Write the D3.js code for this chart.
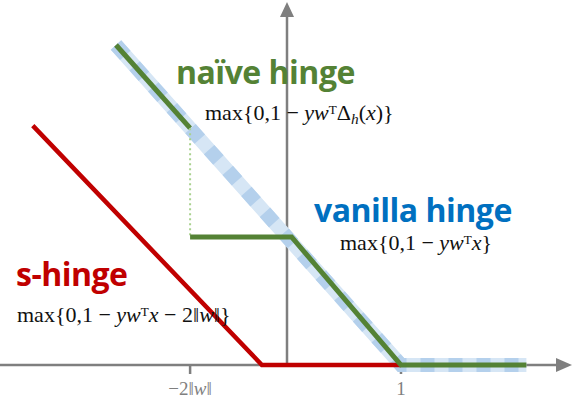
<!DOCTYPE html><html><head><meta charset="utf-8"><script src="https://cdn.jsdelivr.net/npm/d3@7"></script>
<style>body{margin:0;background:#fff}</style></head><body><svg id="c" width="574" height="408"></svg>
<script>
const vanilla=[[-1.5,2.5],[1,0],[2.1,0]];
const naive=[[-1.5,2.5],[-0.85,1.85]];
const naiveDotted=[[-0.85,1.85],[-0.85,1]];
const naiveFlat=[[-0.85,1],[0.04,1],[1,0],[2.1,0]];
const shinge=[[-2.23,1.87],[-0.22,0],[1,0]];
const tickVals=[-0.85,1];
const svg=d3.select("#c");
const x=d3.scaleLinear().domain([0,1]).range([287,401]);
const y=d3.scaleLinear().domain([0,1]).range([365,237]);
const line=d3.line().x(d=>x(d[0])).y(d=>y(d[1]));
const g="#7f7f7f";
svg.append("line").attr("x1",0).attr("x2",558).attr("y1",y(0)).attr("y2",y(0)).attr("stroke",g).attr("stroke-width",2.5);
svg.append("path").attr("d","M572,365 L556,358 L556,372Z").attr("fill",g);
svg.append("line").attr("x1",x(0)).attr("x2",x(0)).attr("y1",y(0)).attr("y2",14).attr("stroke",g).attr("stroke-width",2.5);
svg.append("path").attr("d","M287,2 L280,17 L294,17Z").attr("fill",g);
const ser="Liberation Serif", sans="Open Sans";
function rich(xp,yp,parts,c,sz,anchor){
 const te=svg.append("text").attr("x",xp).attr("y",yp).attr("fill",c).attr("font-size",sz).attr("font-family",ser).attr("text-anchor",anchor||"start");
 parts.forEach(p=>{const ts=te.append("tspan").text(p[0]);
  if(p[1]&&p[1].includes("i"))ts.attr("font-style","italic");
  if(p[1]&&p[1].includes("sub"))ts.attr("baseline-shift","-25%").attr("font-size",sz*0.7);});
}
tickVals.forEach((v,i)=>{
 svg.append("line").attr("x1",x(v)).attr("x2",x(v)).attr("y1",365).attr("y2",374).attr("stroke",g).attr("stroke-width",2.5);
});
rich(x(-0.85),395,[["−2‖"],["w","i"],["‖"]],g,19,"middle");
rich(x(1),395,[["1"]],g,19,"middle");
svg.append("path").attr("d",line(vanilla)).attr("fill","none").attr("stroke","#d6e6f5").attr("stroke-width",14);
svg.append("path").attr("d",line(vanilla)).attr("fill","none").attr("stroke","#b4d0ec").attr("stroke-width",14).attr("stroke-dasharray","14 14");
svg.append("path").attr("d",line(shinge)).attr("fill","none").attr("stroke","#c00000").attr("stroke-width",4.5);
svg.append("path").attr("d",line(naive)).attr("fill","none").attr("stroke","#548235").attr("stroke-width",5);
svg.append("path").attr("d",line(naiveDotted)).attr("fill","none").attr("stroke","#a9d18e").attr("stroke-width",2).attr("stroke-dasharray","2 3");
svg.append("path").attr("d",line(naiveFlat)).attr("fill","none").attr("stroke","#548235").attr("stroke-width",5);
function t(xp,yp,s,c,sz){svg.append("text").attr("x",xp).attr("y",yp).attr("fill",c).attr("font-size",sz).attr("font-family",sans).attr("font-weight","bold").attr("letter-spacing",-0.5).text(s);}
t(176,84,"naïve hinge","#548235",32);
rich(205,120,[["max{0,1 − "],["yw","i"],["ᵀΔ"],["h","i sub"],["("],["x","i"],[")}"]],"#111",22);
t(314,222,"vanilla hinge","#0070c0",32);
rich(340,250,[["max{0,1 − "],["yw","i"],["ᵀ"],["x","i"],["}"]],"#111",22);
t(16,286,"s-hinge","#c00000",32);
rich(17,322,[["max{0,1 − "],["yw","i"],["ᵀ"],["x","i"],[" − 2‖"],["w","i"],["‖}"]],"#111",22);
</script></body></html>
